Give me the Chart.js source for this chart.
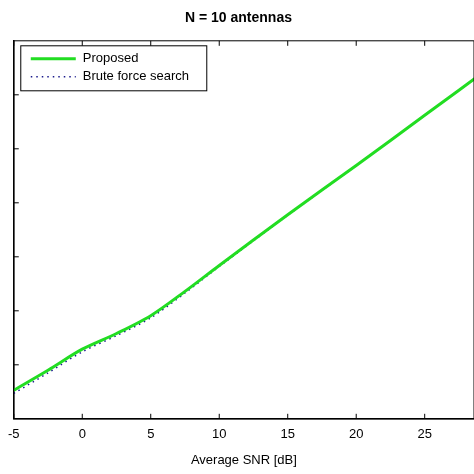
<!DOCTYPE html>
<html>
<head>
<meta charset="utf-8">
<script src="https://cdn.jsdelivr.net/npm/chart.js@4"></script>
<style>
  html, body { margin: 0; padding: 0; background: #fff; }
  #wrap { width: 474px; height: 474px; }
</style>
</head>
<body>
<div id="wrap"><canvas id="c"></canvas></div>
<script>
// SNR in dB
const snr = [-5, -2.5, 0, 2.5, 5, 7.5, 10, 15, 20, 25, 30];
const proposed = [0.53, 0.90, 1.29, 1.58, 1.91, 2.36, 2.84, 3.78, 4.69, 5.62, 6.55];
const bruteForce = [0.47, 0.85, 1.24, 1.54, 1.87, 2.33, 2.82, 3.77, 4.69, 5.62, 6.55];
const xTicks = [-5, 0, 5, 10, 15, 20, 25];
const legendItems = ['Proposed', 'Brute force search'];

const toXY = (arr) => arr.map((v, i) => ({ x: snr[i], y: v }));

new Chart(document.getElementById('c'), {
  type: 'line',
  data: {
    datasets: [
      { label: legendItems[0], data: toXY(proposed), borderColor: '#22dd22', borderWidth: 3, pointRadius: 0, tension: 0.3 },
      { label: legendItems[1], data: toXY(bruteForce), borderColor: '#1a1a8c', borderWidth: 1.5, borderDash: [1.5, 4], pointRadius: 0, tension: 0.3 },
    ],
  },
  options: {
    animation: false,
    responsive: true,
    maintainAspectRatio: false,
    layout: { padding: { left: 3, right: 0, top: 0, bottom: 0 } },
    plugins: {
      title: { display: true, text: 'N = 10 antennas', color: '#000', font: { family: 'Liberation Sans', size: 14, weight: 'bold' }, padding: { top: 10, bottom: 14 } },
      legend: { display: false },
    },
    scales: {
      x: {
        type: 'linear', min: -5, max: 28.6,
        afterBuildTicks: (s) => { s.ticks = xTicks.map(v => ({ value: v })); },
        grid: { display: false, drawTicks: false },
        border: { color: '#000', width: 1.5 },
        ticks: { color: '#000', font: { family: 'Liberation Sans', size: 13 }, padding: 8 },
        title: { display: true, text: 'Average SNR [dB]', color: '#000', font: { family: 'Liberation Sans', size: 13 }, padding: { top: 2, bottom: 6 } },
      },
      y: {
        min: 0, max: 7,
        afterFit: (s) => { s.width = 0; },
        grid: { display: false, drawTicks: false },
        border: { color: '#000', width: 1.5 },
        ticks: { display: false, stepSize: 1 },
      },
    },
  },
  plugins: [{
    id: 'frame',
    afterDraw(chart) {
      const { ctx, chartArea: a, scales } = chart;
      ctx.save();
      ctx.strokeStyle = '#000';
      ctx.lineWidth = 1;
      ctx.strokeRect(a.left, a.top, a.right - a.left, a.bottom - a.top);
      ctx.beginPath();
      xTicks.forEach(v => {
        const px = scales.x.getPixelForValue(v);
        ctx.moveTo(px, a.bottom); ctx.lineTo(px, a.bottom - 5);
        ctx.moveTo(px, a.top); ctx.lineTo(px, a.top + 5);
      });
      for (let v = 1; v < 7; v++) {
        const py = scales.y.getPixelForValue(v);
        ctx.moveTo(a.left, py); ctx.lineTo(a.left + 5, py);
      }
      ctx.stroke();

      // legend box in the top-left corner
      const lx = a.left + 7, ly = a.top + 5, lw = 186, lh = 45;
      ctx.fillStyle = '#fff';
      ctx.fillRect(lx, ly, lw, lh);
      ctx.strokeRect(lx, ly, lw, lh);
      ctx.font = '13px "Liberation Sans"';
      ctx.textBaseline = 'middle';
      chart.data.datasets.forEach((ds, i) => {
        const y = ly + 13 + i * 18;
        ctx.beginPath();
        ctx.strokeStyle = ds.borderColor;
        ctx.lineWidth = ds.borderWidth;
        ctx.setLineDash(ds.borderDash || []);
        ctx.moveTo(lx + 10, y); ctx.lineTo(lx + 55, y);
        ctx.stroke();
        ctx.setLineDash([]);
        ctx.fillStyle = '#000';
        ctx.fillText(ds.label, lx + 62, y);
      });
      ctx.restore();
    },
  }],
});
</script>
</body>
</html>
